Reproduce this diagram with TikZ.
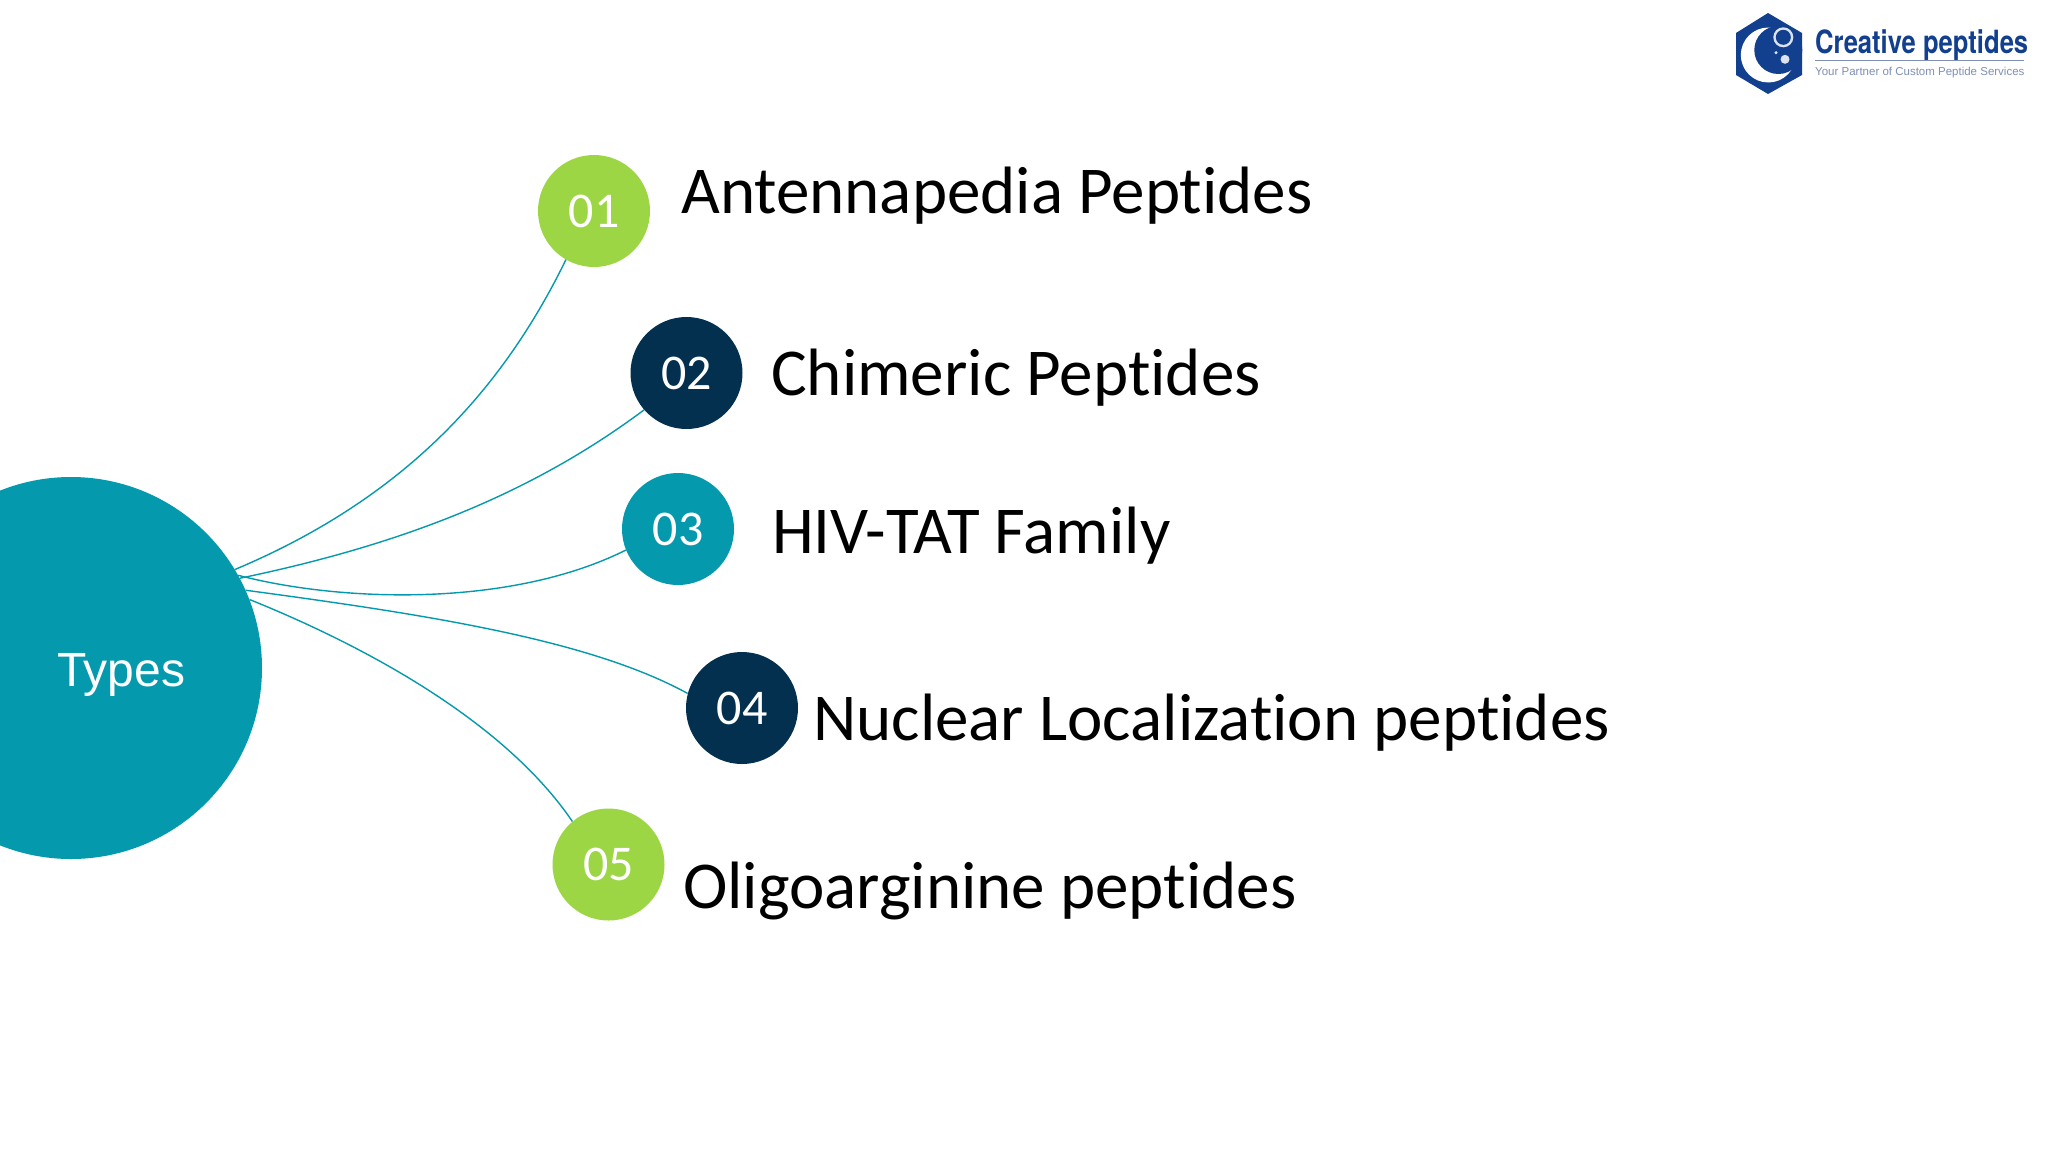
\documentclass[tikz,border=0pt]{standalone}
\usepackage{fontspec}
\setmainfont[Ligatures=NoCommon]{Carlito}
\newfontfamily\arialf{Liberation Sans}
\newfontfamily\heavyf{TeX Gyre Heros}
\definecolor{teal1}{HTML}{0599AE}
\definecolor{green1}{HTML}{9DD645}
\definecolor{navy1}{HTML}{03304F}
\definecolor{logoblue}{HTML}{123F8E}
\definecolor{logogray}{HTML}{7F8FB5}
\tikzset{
  numdot/.style={circle,inner sep=0pt,minimum size=112pt,text=white,font=\fontsize{50}{50}\selectfont},
  itemlabel/.style={anchor=base west,inner sep=0pt,text=black,font=\fontsize{67}{72}\selectfont},
  link/.style={draw=teal1,line width=1.4pt}
}
\begin{document}
\begin{tikzpicture}[x=1pt,y=-1pt]
\useasboundingbox (0,0) rectangle (2048,1152);
\clip (0,0) rectangle (2048,1152);
\fill[white] (0,0) rectangle (2048,1152);
% hub
\node[circle,fill=teal1,inner sep=0pt,minimum size=382pt] (hub) at (71,668) {};
\node[anchor=base west,inner sep=0pt,text=white,font=\arialf\fontsize{48}{56}\selectfont] (types) at (57,686) {Types};
% numbered circles
\node[numdot,fill=green1] (n1) at (594,211) {01};
\node[numdot,fill=navy1] (n2) at (686.5,373) {02};
\node[numdot,fill=teal1] (n3) at (678,529) {03};
\node[numdot,fill=navy1] (n4) at (742,708) {04};
\node[numdot,fill=green1] (n5) at (608.5,864.5) {05};
% labels
\node[itemlabel] (l1) at (681,213) {Antennapedia Peptides};
\node[itemlabel] (l2) at (771,395) {Chimeric Peptides};
\node[itemlabel] (l3) at (772,553) {HIV-TAT Family};
\node[itemlabel] (l4) at (813,740) {Nuclear Localization peptides};
\node[itemlabel] (l5) at (683,908) {Oligoarginine peptides};
% connectors
\draw[link] (hub.31.3) .. controls (400,500) and (500,395) .. (n1.240);
\draw[link] (hub.28.7) .. controls (400,545) and (530,495) .. (n2.221);
\draw[link] (hub.29.8) .. controls (340,602) and (510,608) .. (n3.202.5);
\draw[link] (hub.24.7) .. controls (430,615) and (590,640) .. (n4.165);
\draw[link] (hub.21.7) .. controls (350,640) and (500,715) .. (n5.130.5);
% logo
\fill[logoblue] (1768,13) -- (1802,33) -- (1802,75) -- (1768,94) -- (1736,75) -- (1736,33) -- cycle;
\fill[white] (1768.3,55) circle (27.5);
\fill[logoblue] (1778.3,50) circle (24);
\fill[white!85!logoblue] (1783.3,37.3) circle (10);
\fill[logoblue] (1783.3,37.3) circle (7.5);
\fill[white!85!logoblue] (1785,59.3) circle (4.5);
\fill[white!85!logoblue] (1776,52.7) circle (1.7);
\node[anchor=base west,inner sep=0pt,text=logoblue,xscale=0.8,transform shape,font=\heavyf\bfseries\fontsize{32}{36}\selectfont] (brand) at (1815,53) {Creative peptides};
\draw[logogray,line width=1.2pt] (1815,60.3) -- (2024,60.3);
\node[anchor=base west,inner sep=0pt,text=logogray,font=\arialf\fontsize{11.5}{14}\selectfont] (tag) at (1815,75) {Your Partner of Custom Peptide Services};
\end{tikzpicture}
\end{document}
